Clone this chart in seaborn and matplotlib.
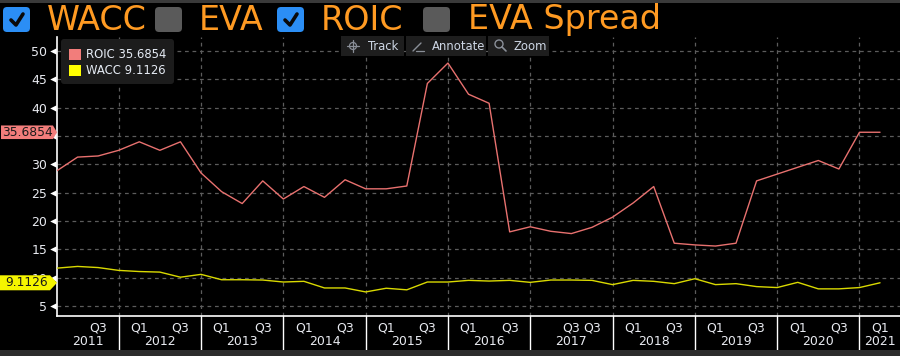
import numpy as np
import pandas as pd
import matplotlib
matplotlib.use("Agg")
import matplotlib.pyplot as plt
import matplotlib.transforms as mtransforms
from matplotlib.patches import Rectangle, FancyBboxPatch, Polygon, Circle
from matplotlib.lines import Line2D
import seaborn as sns

# quarterly data, 2011 Q1 .. 2021 Q1
quarters = pd.period_range("2011Q1", "2021Q1", freq="Q").astype(str).tolist()

roic = [28.9, 31.3, 31.5, 32.5, 34.0, 32.5, 34.0, 28.5, 25.2, 23.1,
        27.1, 23.9, 26.1, 24.2, 27.3, 25.7, 25.7, 26.2, 44.3, 47.9,
        42.4, 40.8, 18.1, 19.0, 18.2, 17.8, 18.9, 20.7, 23.2, 26.1,
        16.1, 15.8, 15.6, 16.1, 27.1, 28.3, 29.5, 30.7, 29.2, 35.6854, 35.6854]
wacc = [11.7, 12.0, 11.8, 11.3, 11.1, 11.0, 10.1, 10.6, 9.65, 9.65,
        9.6, 9.25, 9.37, 8.2, 8.2, 7.5, 8.15, 7.87, 9.25, 9.25,
        9.54, 9.42, 9.54, 9.19, 9.6, 9.6, 9.54, 8.79, 9.54, 9.37,
        8.96, 9.83, 8.79, 8.96, 8.44, 8.27, 9.19, 8.04, 8.04, 8.27, 9.1126]

roic_last = 35.6854
wacc_last = 9.1126

# axis labels as shown on the terminal (2017 really shows "Q3 Q3")
q_ticks = ["2011Q3", "2012Q1", "2012Q3", "2013Q1", "2013Q3", "2014Q1", "2014Q3",
           "2015Q1", "2015Q3", "2016Q1", "2016Q3", "2017Q2", "2017Q3", "2018Q1",
           "2018Q3", "2019Q1", "2019Q3", "2020Q1", "2020Q3", "2021Q1"]
q_labels = ["Q3", "Q1", "Q3", "Q1", "Q3", "Q1", "Q3", "Q1", "Q3", "Q1", "Q3",
            "Q3", "Q3", "Q1", "Q3", "Q1", "Q3", "Q1", "Q3", "Q1"]
minor_q = ["2011Q2", "2012Q2", "2013Q2", "2014Q2", "2015Q2", "2016Q2",
           "2017Q1", "2018Q2", "2019Q2", "2020Q2"]
year_ends = [f"{y}Q4" for y in range(2011, 2021)]
years = [str(y) for y in range(2011, 2022)]
y_ticks = [5, 10, 15, 20, 25, 30, 35, 40, 45, 50]
# 35 sits under the ROIC value tag
y_labels = ["5", "10", "15", "20", "25", "30", "", "40", "45", "50"]

ROIC_C = "#e8716f"
WACC_C = "#d9d900"
ORANGE = "#ff9a22"
W, H = 900, 356

sns.set_theme(style="dark", rc={"axes.facecolor": "black", "figure.facecolor": "black"})
plt.rcParams["font.family"] = ["DejaVu Sans"]

pos = {q: i for i, q in enumerate(quarters)}
df = pd.DataFrame({"pos": list(range(len(quarters))) * 2,
                   "series": ["ROIC"] * len(roic) + ["WACC"] * len(wacc),
                   "value": roic + wacc})

fig = plt.figure(figsize=(9, 3.56), dpi=100, facecolor="black")
ax = fig.add_axes([57 / W, 40 / H, 843 / W, 279 / H])
ax.set_facecolor("black")

xmax = 40.97
ax.set_xlim(0, xmax)
ax.set_ylim(3.25, 51.66)

# grid
for yv in y_ticks:
    ax.axhline(yv, color="#5c5c5c", lw=0.9, ls=(0, (3, 3)), zorder=0)
for q in year_ends:
    ax.axvline(pos[q], color="#5c5c5c", lw=0.9, ls=(0, (3, 3)), zorder=0)

sns.lineplot(data=df, x="pos", y="value", hue="series",
             palette={"ROIC": ROIC_C, "WACC": WACC_C}, legend=False,
             linewidth=1.0, ax=ax, zorder=3)

ax.set_xlabel("")
ax.set_ylabel("")
for s in ["top", "right"]:
    ax.spines[s].set_visible(False)
for s in ["left", "bottom"]:
    ax.spines[s].set_color("white")
    ax.spines[s].set_linewidth(1.2)

# x axis
ax.set_xticks([pos[q] for q in q_ticks])
ax.set_xticklabels(q_labels)
ax.set_xticks([pos[q] for q in minor_q], minor=True)
ax.tick_params(axis="x", which="major", length=0, pad=4, colors="#e8eaf0", labelsize=9)
ax.tick_params(axis="x", which="minor", length=3.5, width=1, color="white", direction="out")

blend_x = mtransforms.blended_transform_factory(ax.transData, ax.transAxes)
edges = [0] + [pos[q] for q in year_ends] + [xmax]
for i, yr in enumerate(years):
    ax.text((edges[i] + edges[i + 1]) / 2, -0.093, yr, transform=blend_x,
            ha="center", va="center", color="#e8eaf0", fontsize=9)
for q in year_ends:
    ax.plot([pos[q], pos[q]], [0, -0.125], transform=blend_x, color="white",
            lw=1, clip_on=False)

# y axis
ax.set_yticks(y_ticks)
ax.set_yticklabels(y_labels)
ax.set_yticks([v + 2.5 for v in y_ticks], minor=True)
ax.tick_params(axis="y", which="major", length=0, pad=7, colors="#e8eaf0", labelsize=9)
ax.tick_params(axis="y", which="minor", length=3.5, width=1, color="white", direction="out")
blend_y = mtransforms.blended_transform_factory(ax.transAxes, ax.transData)
ax.scatter([-0.0045] * len(y_ticks), y_ticks, marker="<", s=22, color="white",
           transform=blend_y, clip_on=False, zorder=5, linewidths=0)


def P(x, y):
    return (x / 100, (H - y) / 100)


pix = fig.dpi_scale_trans

# bottom and top strips
fig.add_artist(Rectangle(P(0, H), W / 100, 6 / 100, transform=pix, fc="#2c2c2c", ec="none"))
fig.add_artist(Rectangle(P(0, 3), W / 100, 3 / 100, transform=pix, fc="#3a3a3a", ec="none"))

# value tags on the axis
def tag(value, color, left, head, half, text_right):
    tr = pix + mtransforms.ScaledTranslation(0, value, blend_y)
    verts = [(-left / 100, -half / 100), (-head / 100, -half / 100), (0, 0),
             (-head / 100, half / 100), (-left / 100, half / 100)]
    fig.add_artist(Polygon(verts, closed=True, transform=tr, fc=color, ec="none", zorder=4))
    fig.text(-text_right / 100, 0, f"{value:.4f}", transform=tr, ha="right",
             va="center", fontsize=8.8, color="#1a1a1a", zorder=5)


tag(roic_last, "#f27d7b", 56, 4, 6.8, 4.5)
tag(wacc_last, "#f5f500", 57, 7, 7.5, 9)

# legend box
fig.add_artist(FancyBboxPatch(P(61, 84), 113 / 100, 45 / 100, boxstyle="round,pad=0,rounding_size=0.03",
                              transform=pix, fc="#1c1c1c", ec="none"))
fig.add_artist(Rectangle(P(69, 60), 12 / 100, 11 / 100, transform=pix, fc="#f27d7b", ec="none"))
fig.add_artist(Rectangle(P(69, 76), 12 / 100, 11 / 100, transform=pix, fc="#ffff00", ec="none"))
fig.text(*P(86, 54.5), f"ROIC {roic_last:.4f}", transform=pix, va="center",
         fontsize=8.4, color="#e6ecf5")
fig.text(*P(86, 70.7), f"WACC {wacc_last:.4f}", transform=pix, va="center",
         fontsize=8.4, color="#e6ecf5")

# chart toolbar
for x0, x1 in [(341, 404), (406, 486), (488, 549)]:
    fig.add_artist(Rectangle(P(x0, 56), (x1 - x0) / 100, 20 / 100, transform=pix,
                             fc="#1e1e1e", ec="none"))
for label, x in [("Track", 368), ("Annotate", 432), ("Zoom", 513)]:
    fig.text(*P(x, 46), label, transform=pix, va="center", fontsize=8.4, color="#cdd6e4")
icon_c = "#8a8f98"
fig.add_artist(Line2D([3.47, 3.59], [(H - 46) / 100] * 2, transform=pix, color=icon_c, lw=0.9))
fig.add_artist(Line2D([3.53, 3.53], [(H - 52) / 100, (H - 40) / 100], transform=pix, color=icon_c, lw=0.9))
fig.add_artist(Circle(P(353, 46), 0.035, transform=pix, fc="none", ec=icon_c, lw=0.9))
fig.add_artist(Line2D([4.13, 4.21], [(H - 51) / 100, (H - 43) / 100], transform=pix, color=icon_c, lw=1))
fig.add_artist(Line2D([4.16, 4.24], [(H - 51) / 100] * 2, transform=pix, color=icon_c, lw=0.9))
fig.add_artist(Circle(P(499, 44), 0.04, transform=pix, fc="none", ec=icon_c, lw=1))
fig.add_artist(Line2D([5.02, 5.06], [(H - 47) / 100, (H - 51) / 100], transform=pix, color=icon_c, lw=1.2))

# header with check boxes
header = [("WACC", True, 3, 47), ("EVA", False, 155, 199),
          ("ROIC", True, 277, 321), ("EVA Spread", False, 423, 468)]
for label, checked, bx, tx in header:
    fc = "#2b8ef5" if checked else "#5a5a5a"
    fig.add_artist(FancyBboxPatch(P(bx, 32), 27 / 100, 25 / 100,
                                  boxstyle="round,pad=0,rounding_size=0.04",
                                  transform=pix, fc=fc, ec="none"))
    if checked:
        fig.add_artist(Line2D([(bx + 8) / 100, (bx + 13) / 100, (bx + 20) / 100],
                              [(H - 20) / 100, (H - 25) / 100, (H - 14) / 100],
                              transform=pix, color="#0a0a0a", lw=2.6))
    fig.text(*P(tx, 20), label, transform=pix, va="center", fontsize=24, color=ORANGE)

fig.savefig("out.png", dpi=100, facecolor="black")
